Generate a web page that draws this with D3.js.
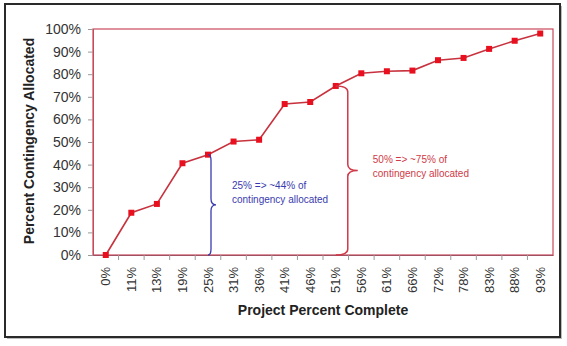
<!DOCTYPE html>
<html>
<head>
<meta charset="utf-8">
<script src="https://cdn.jsdelivr.net/npm/d3@7"></script>
<style>
html,body{margin:0;padding:0;background:#fff;}
svg{display:block;font-family:"Liberation Sans",Arial,sans-serif;}
</style>
</head>
<body>
<svg id="chart" width="567" height="346"></svg>
<script>
const categories = ["0%","11%","13%","19%","25%","31%","36%","41%","46%","51%","56%","61%","66%","72%","78%","83%","88%","93%"];
const allocated = [0, 18.7, 22.6, 40.6, 44.4, 50.2, 51.0, 66.8, 67.7, 74.8, 80.4, 81.3, 81.6, 86.2, 87.2, 91.2, 94.8, 98.0];
const yTicks = [0,10,20,30,40,50,60,70,80,90,100];
const xTitle = "Project Percent Complete";
const yTitle = "Percent Contingency Allocated";
const notes = [
  {cat:"25%", lines:["25% => ~44% of","contingency allocated"], color:"#3a3aae"},
  {cat:"51%", lines:["50% => ~75% of","contingency allocated"], color:"#cf3a48"}
];

const svg = d3.select("#chart");
const m = {left:93, right:553, top:29, bottom:255};

// outer frame with shadow
svg.append("rect").attr("x",7).attr("y",6).attr("width",555).attr("height",333).attr("fill","#bbb");
svg.append("rect").attr("x",5).attr("y",4).attr("width",555).attr("height",333)
  .attr("fill","#fff").attr("stroke","#2a2a2a").attr("stroke-width",2);

const x = d3.scaleBand().domain(categories).range([m.left,m.right]);
const y = d3.scaleLinear().domain([0,100]).range([m.bottom,m.top]);

// plot border
svg.append("rect").attr("x",m.left).attr("y",m.top).attr("width",m.right-m.left).attr("height",m.bottom-m.top)
  .attr("fill","none").attr("stroke","#c9485a").attr("stroke-width",1.2);

// y axis
const yAxis = svg.append("g").attr("transform",`translate(${m.left},0)`)
  .call(d3.axisLeft(y).tickValues(yTicks).tickFormat(d=>d+"%").tickSize(5).tickPadding(7));
yAxis.select(".domain").attr("stroke","#c9485a");
yAxis.selectAll(".tick line").attr("stroke","#999");
yAxis.selectAll("text").attr("font-size",14).attr("fill","#333").attr("font-family","Liberation Sans, Arial, sans-serif");

// x axis
const xAxis = svg.append("g").attr("transform",`translate(0,${m.bottom})`)
  .call(d3.axisBottom(x).tickSize(0).tickPadding(0));
xAxis.select(".domain").attr("stroke","#a05060");
xAxis.selectAll(".tick text")
  .attr("transform","rotate(-90)")
  .attr("text-anchor","end")
  .attr("x",-12).attr("y",0).attr("dy","0.35em")
  .attr("font-size",13).attr("fill","#333").attr("font-family","Liberation Sans, Arial, sans-serif");
// band-boundary ticks
svg.append("g").selectAll("line").data(categories.slice(1)).join("line")
  .attr("x1",d=>x(d)).attr("x2",d=>x(d)).attr("y1",m.bottom).attr("y2",m.bottom+5)
  .attr("stroke","#999");

// series line
const cx = d => x(d)+x.bandwidth()/2;
const line = d3.line().x((d,i)=>cx(categories[i])).y(d=>y(d));
svg.append("path").datum(allocated).attr("d",line)
  .attr("fill","none").attr("stroke","#c8323e").attr("stroke-width",1.6);
svg.append("g").selectAll("rect").data(allocated).join("rect")
  .attr("x",(d,i)=>cx(categories[i])-3).attr("y",d=>y(d)-3)
  .attr("width",6).attr("height",6).attr("fill","#e8101e");

// braces
function brace(xb, y1, y2, w, e){
  const ym=(y1+y2)/2, r=6;
  return `M${xb-e},${y1} Q${xb},${y1} ${xb},${y1+r} L${xb},${ym-r} Q${xb},${ym} ${xb+w},${ym} Q${xb},${ym} ${xb},${ym+r} L${xb},${y2-r} Q${xb},${y2} ${xb-e},${y2}`;
}
// blue brace at 25%
const n0 = notes[0];
const i0 = categories.indexOf(n0.cat);
const bx0 = cx(n0.cat)+3;
svg.append("path").attr("d",brace(bx0, y(allocated[i0]), y(0), 5, 3))
  .attr("fill","none").attr("stroke",n0.color).attr("stroke-width",1.3);
const t0 = svg.append("text").attr("fill",n0.color).attr("font-size",10).attr("x",bx0+21).attr("y",189);
n0.lines.forEach((l,k)=>t0.append("tspan").attr("x",bx0+21).attr("dy",k?14:0).text(l));

// red brace at 51%
const n1 = notes[1];
const i1 = categories.indexOf(n1.cat);
const bx1 = cx(n1.cat)+12;
svg.append("path").attr("d",brace(bx1, y(allocated[i1]), y(0), 10, 12))
  .attr("fill","none").attr("stroke",n1.color).attr("stroke-width",1.5);
const t1 = svg.append("text").attr("fill",n1.color).attr("font-size",10).attr("x",bx1+25).attr("y",163);
n1.lines.forEach((l,k)=>t1.append("tspan").attr("x",bx1+25).attr("dy",k?14:0).text(l));

// titles
svg.append("text").attr("x",(m.left+m.right)/2 - 0).attr("y",315).attr("text-anchor","middle")
  .attr("font-size",14).attr("font-weight","bold").attr("fill","#222").text(xTitle);
svg.append("text").attr("transform","translate(34,141) rotate(-90)").attr("text-anchor","middle")
  .attr("font-size",14).attr("font-weight","bold").attr("fill","#222").text(yTitle);
</script>
</body>
</html>
